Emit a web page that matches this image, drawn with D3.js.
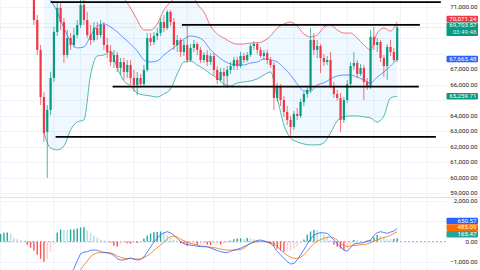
<!DOCTYPE html>
<html lang="en">
<head>
<meta charset="UTF-8">
<script src="https://d3js.org/d3.v7.min.js"></script>
<style>
  html, body { margin: 0; padding: 0; background: #fff; }
  svg { display: block; font-family: Roboto, "Noto Sans", sans-serif; }
</style>
</head>
<body>
<script>
// ---- candles, one per bar, oldest first (first 10 bars sit above the visible range)
var open = [72800, 73100, 73400, 73200, 72900, 72600, 72800, 72400, 72300, 72200,
    72120, 70180, 68250, 65210, 62960, 64380, 66440, 69410, 70960, 70050,
    67920, 69020, 68570, 69210, 69860, 71150, 70180, 69210, 68890, 69670,
    69210, 69860, 68570, 68120, 67470, 67920, 67090, 67470, 66830, 67280,
    66440, 65990, 66440, 66050, 66960, 69020, 68760, 69150, 69340, 70050,
    69670, 70700, 70050, 68570, 68890, 68120, 68570, 67600, 68380, 68630,
    68250, 67600, 67920, 67470, 67860, 66960, 66310, 66830, 66570, 66960,
    67210, 67600, 67210, 67860, 67600, 67920, 68500, 68630, 68250, 67860,
    68050, 67600, 67280, 65150, 65920, 65020, 64250, 63730, 63280, 64120,
    63990, 64890, 65410, 65670, 68890, 68250, 68500, 67730, 67470, 67600,
    65920, 65410, 65150, 63730, 65020, 66050, 67210, 67410, 66700, 67090,
    66180, 65920, 69090, 68570, 68760, 67730, 67210, 68440, 68120, 67600];
var high = [73300, 73600, 73700, 73500, 73100, 72900, 73000, 72700, 72600, 72400,
    72760, 70500, 68570, 65540, 64700, 66830, 69730, 71340, 71340, 70310,
    69540, 69340, 69670, 70180, 71470, 71470, 70700, 69860, 70050, 70050,
    70180, 70050, 69020, 68570, 68250, 68120, 67730, 67730, 67600, 67600,
    66960, 66830, 66700, 67280, 69340, 69340, 69410, 69670, 70310, 70500,
    70830, 70830, 70310, 69210, 69020, 68890, 69860, 68630, 68890, 68760,
    68440, 68120, 68250, 68050, 68050, 67210, 67090, 67090, 67210, 67470,
    67800, 67800, 68120, 68050, 68120, 68630, 68830, 68760, 68440, 68250,
    68250, 67800, 67470, 66120, 66050, 65280, 64630, 63990, 64310, 64510,
    65090, 65540, 65800, 69670, 69340, 68890, 68630, 67990, 67860, 68120,
    66180, 65670, 65470, 65220, 66310, 67470, 68120, 67600, 67340, 67280,
    66440, 69540, 69730, 69020, 68890, 67920, 68630, 68890, 68380, 69860];
var low = [72500, 72900, 73000, 72800, 72400, 72300, 72200, 72000, 71900, 71800,
    69860, 67920, 64700, 62310, 59990, 64050, 66180, 69150, 69540, 67410,
    67730, 68250, 68380, 69020, 69670, 69860, 69020, 68570, 68760, 68890,
    69020, 68250, 67730, 67210, 67090, 66830, 66630, 66310, 66440, 65990,
    65540, 65340, 65800, 65860, 66830, 68500, 68570, 68890, 69150, 69410,
    69540, 69790, 68250, 68120, 67800, 67860, 67410, 67470, 68120, 67920,
    67410, 67410, 67210, 67280, 66630, 66050, 66180, 65920, 65800, 66700,
    66960, 66960, 67090, 67410, 67470, 67800, 68250, 67990, 67730, 67600,
    67340, 67090, 64380, 64890, 64630, 63930, 63410, 62700, 63090, 63730,
    63860, 64630, 65150, 65470, 67920, 67730, 66760, 67210, 67280, 65800,
    65150, 64960, 62960, 63540, 64830, 65800, 66960, 66440, 66570, 65020,
    65670, 65730, 68250, 68120, 67470, 66500, 66310, 67860, 67470, 67470];
var close = [73100, 73400, 73200, 72900, 72600, 72800, 72400, 72300, 72200, 72100,
    70180, 68250, 65210, 62890, 64380, 66440, 69410, 70960, 70050, 67920,
    69020, 68570, 69210, 69860, 71150, 70180, 69210, 68890, 69670, 69210,
    69860, 68570, 68120, 67470, 67920, 67090, 67470, 66830, 67280, 66440,
    65990, 66440, 66050, 66960, 69020, 68760, 69150, 69340, 70050, 69670,
    70700, 70050, 68570, 68890, 68120, 68570, 67600, 68380, 68630, 68250,
    67600, 67920, 67470, 67860, 66960, 66310, 66830, 66570, 66960, 67210,
    67600, 67210, 67860, 67600, 67920, 68500, 68630, 68250, 67860, 68050,
    67600, 67280, 65150, 65920, 65020, 64250, 63730, 63280, 64120, 63990,
    64890, 65410, 65670, 68890, 68250, 68500, 67730, 67470, 67600, 65920,
    65410, 65150, 63730, 65020, 66050, 67210, 67410, 66700, 67090, 66180,
    65920, 69090, 68570, 68760, 67730, 67210, 68440, 68120, 67600, 69703.57];

// ---- bollinger bands
var bandBar = [13, 15, 17, 19, 21, 23, 25, 27, 29, 31, 33, 35, 37, 39, 41, 43, 45, 47,
    49, 51, 53, 55, 57, 59, 61, 63, 65, 67, 69, 71, 73, 75, 77, 79, 81, 83, 85, 87,
    89, 91, 93, 95, 97, 99, 101, 103, 105, 107, 109, 111, 113, 115, 117, 119];
var bbUpper = [81150, 81150, 79530, 77280, 74570, 73150, 73150, 71660, 71730, 71920,
    71790, 71730, 71540, 70950, 70180, 69540, 69540, 69920, 70830, 71340, 71790,
    72120, 71990, 71210, 70700, 69790, 69280, 69020, 68760, 68630, 68630, 68700,
    68700, 68830, 69150, 69660, 69920, 70050, 69790, 69280, 69090, 69210, 69730,
    69860, 69540, 69340, 69340, 69020, 68570, 68250, 69340, 69660, 69470, 70071.24];
var bbBasis = [71990, 71470, 70700, 69670, 68830, 68380, 68440, 69150, 69790, 69920,
    69730, 69410, 69020, 68630, 68180, 67600, 67470, 67540, 67920, 68250, 68570,
    68950, 69150, 69080, 68830, 68250, 67860, 67540, 67340, 67280, 67280, 67410,
    67470, 67670, 67600, 67470, 67090, 66630, 66050, 65600, 65600, 65990, 66120,
    66380, 66570, 66630, 66630, 66500, 66310, 66120, 66500, 66830, 67210, 67665.48];
var bbLower = [62890, 61920, 61800, 62050, 63090, 63600, 63730, 66630, 67860, 67920,
    68180, 67090, 66250, 65920, 65470, 65340, 65280, 65210, 65410, 65730, 66700,
    67470, 67540, 67280, 67020, 66700, 66440, 66050, 65920, 66120, 66180, 66250,
    66380, 66630, 66830, 65150, 63410, 62570, 62310, 62180, 62120, 62120, 62250,
    62890, 63670, 63930, 63990, 63990, 63930, 63860, 63600, 63990, 65150, 65259.71];

// ---- MACD pane, one value per bar
var macdLine = [-1700, -1680, -1660, -1650, -1660, -1680, -1700, -1720, -1800, -1900,
    -2050, -2250, -2500, -2750, -2800, -2600, -2300, -2000, -1800, -1700,
    -1600, -1500, -1350, -950, -600, -520, -500, -430, -420, -430,
    -500, -530, -550, -600, -680, -850, -910, -910, -860, -810,
    -860, -910, -880, -760, -520, -260, -20, 170, 330, 440,
    490, 430, 320, 160, -5, -100, -160, -180, -195, -230,
    -250, -250, -255, -320, -380, -440, -500, -530, -550, -480,
    -420, -380, -330, -250, -170, -85, 0, 50, 80, 40,
    -20, -85, -250, -480, -650, -830, -980, -1110, -1080, -900,
    -660, -400, -120, 130, 320, 400, 440, 430, 410, 250,
    80, -100, -250, -420, -480, -300, -120, -90, -70, -45,
    20, 80, 300, 440, 490, 450, 410, 470, 520, 650.57];
var signalLine = [-2080, -2100, -2100, -2060, -1980, -1900, -1820, -1760, -1700, -1680,
    -1700, -1750, -1820, -1900, -2000, -2100, -2150, -2200, -2150, -2100,
    -2000, -1900, -1750, -1600, -1400, -1160, -960, -750, -620, -560,
    -550, -550, -550, -560, -620, -720, -780, -820, -840, -850,
    -860, -870, -850, -800, -700, -580, -440, -300, -170, -40,
    140, 250, 270, 230, 120, 40, -40, -90, -130, -170,
    -210, -240, -260, -280, -300, -330, -370, -400, -420, -420,
    -420, -410, -400, -330, -200, -90, -40, -10, 10, 0,
    -20, -60, -130, -250, -400, -560, -680, -770, -830, -830,
    -780, -660, -480, -280, -90, 20, 100, 160, 210, 240,
    180, 80, -100, -190, -250, -220, -190, -180, -160, -140,
    -120, -60, 20, 80, 150, 200, 243, 320, 400, 485.09];
var histogram = [380, 440, 450, 400, 200, 120, 60, 20, -150, -300,
    -450, -650, -850, -1000, -850, -500, -150, 450, 600, 570,
    560, 600, 600, 650, 700, 720, 550, 420, 300, 200,
    100, 50, 20, -50, -200, -250, -120, -60, -80, -100,
    -60, -70, -30, 150, 300, 400, 470, 480, 500, 450,
    300, 200, 100, 40, -80, -100, -200, -150, -120, -160,
    -140, -130, -150, -170, -140, -120, -140, -100, -60, 50,
    120, 150, 160, 130, 180, 150, 120, 60, 20, -20,
    -40, -120, -230, -350, -450, -500, -480, -450, -350, -250,
    -100, 100, 350, 500, 580, 560, 480, 350, 250, 80,
    -150, -250, -350, -430, -300, -150, 80, 60, 40, 30,
    50, 80, 220, 330, 280, 200, 130, 120, 140, 165.47];

// ---- hand drawn horizontal levels (price, first bar, last bar)
var levelPrice = [71340, 69860, 65880, 62640];
var levelFrom = [15.0, 54.4, 33.6, 16.5];
var levelTo = [132.1, 125.8, 125.5, 130.6];

var priceTicks = [59000, 60000, 61000, 62000, 63000, 64000, 65000, 66000, 67000, 68000, 69000, 70000, 71000];
var macdTicks = [-1000, 0, 1000, 2000];
var countdown = "03:49:48";

var W = 480, H = 270, plotRight = 446, paneSplit = 197.5;
var green = "#089981", red = "#f23645";

var svg = d3.select("body").append("svg")
    .attr("width", W)
    .attr("height", H);

var x = d3.scaleLinear().domain([0, 119]).range([0.6, 397.2]);
var yP = d3.scaleLinear().domain([58760, 71471]).range([197, 0]);
var yM = d3.scaleLinear().domain([-1406, 2158]).range([270, 198]);
var fmt = d3.format(",.2f");

var defs = svg.append("defs");
defs.append("clipPath").attr("id", "clipMain")
    .append("rect").attr("x", 0).attr("y", 0).attr("width", plotRight).attr("height", paneSplit);
defs.append("clipPath").attr("id", "clipMacd")
    .append("rect").attr("x", 0).attr("y", paneSplit + 0.5).attr("width", plotRight).attr("height", H - paneSplit);

// grid
var grid = svg.append("g").attr("stroke", "#f0f3fa").attr("stroke-width", 1);
grid.selectAll(".vg").data(d3.range(0, 134, 8)).enter().append("line")
    .attr("x1", function (d) { return x(d); }).attr("x2", function (d) { return x(d); })
    .attr("y1", 0).attr("y2", H);
grid.selectAll(".hg").data(priceTicks).enter().append("line")
    .attr("x1", 0).attr("x2", plotRight)
    .attr("y1", function (d) { return Math.round(yP(d)) + 0.5; })
    .attr("y2", function (d) { return Math.round(yP(d)) + 0.5; });
grid.selectAll(".mg").data(macdTicks).enter().append("line")
    .attr("x1", 0).attr("x2", plotRight)
    .attr("y1", function (d) { return Math.round(yM(d)) + 0.5; })
    .attr("y2", function (d) { return Math.round(yM(d)) + 0.5; });

svg.append("line").attr("x1", 0).attr("x2", W).attr("y1", paneSplit).attr("y2", paneSplit)
    .attr("stroke", "#e0e3eb").attr("stroke-width", 1);

// ---- main pane
var main = svg.append("g").attr("clip-path", "url(#clipMain)");

var bands = bandBar.map(function (b, i) {
    return {bar: b, up: bbUpper[i], mid: bbBasis[i], lo: bbLower[i]};
});
main.append("path").datum(bands)
    .attr("fill", "rgba(33,150,243,0.07)")
    .attr("d", d3.area().curve(d3.curveMonotoneX)
        .x(function (d) { return x(d.bar); })
        .y0(function (d) { return yP(d.lo); })
        .y1(function (d) { return yP(d.up); }));

[["up", red], ["mid", "#2962ff"], ["lo", green]].forEach(function (b) {
    main.append("path").datum(bands)
        .attr("fill", "none")
        .attr("stroke", b[1])
        .attr("stroke-width", 0.8)
        .attr("stroke-opacity", 0.85)
        .attr("d", d3.line().curve(d3.curveMonotoneX)
            .x(function (d) { return x(d.bar); })
            .y(function (d) { return yP(d[b[0]]); }));
});

// current price line
main.append("line")
    .attr("x1", 0).attr("x2", plotRight)
    .attr("y1", yP(close[close.length - 1])).attr("y2", yP(close[close.length - 1]))
    .attr("stroke", green).attr("stroke-opacity", 0.5).attr("stroke-width", 0.6)
    .attr("stroke-dasharray", "1,1.5");

var bars = d3.range(open.length);
var col = function (i) { return close[i] >= open[i] ? green : red; };

main.selectAll(".wick").data(bars).enter().append("line")
    .attr("x1", function (i) { return x(i); }).attr("x2", function (i) { return x(i); })
    .attr("y1", function (i) { return yP(high[i]); })
    .attr("y2", function (i) { return yP(low[i]); })
    .attr("stroke", col).attr("stroke-width", 0.7);

main.selectAll(".body").data(bars).enter().append("rect")
    .attr("x", function (i) { return x(i) - 1.1; })
    .attr("width", 2.2)
    .attr("y", function (i) { return Math.min(yP(open[i]), yP(close[i])); })
    .attr("height", function (i) { return Math.max(0.7, Math.abs(yP(open[i]) - yP(close[i]))); })
    .attr("fill", col);

// drawn levels
main.selectAll(".level").data(levelPrice).enter().append("line")
    .attr("x1", function (d, i) { return x(levelFrom[i]); })
    .attr("x2", function (d, i) { return x(levelTo[i]); })
    .attr("y1", function (d) { return yP(d); })
    .attr("y2", function (d) { return yP(d); })
    .attr("stroke", "#000").attr("stroke-width", 1.8);

// ---- MACD pane
var macd = svg.append("g").attr("clip-path", "url(#clipMacd)");

macd.append("line")
    .attr("x1", 0).attr("x2", plotRight)
    .attr("y1", yM(0)).attr("y2", yM(0))
    .attr("stroke", "#9598a1").attr("stroke-width", 0.7)
    .attr("stroke-dasharray", "2,2");

macd.selectAll(".hist").data(bars).enter().append("rect")
    .attr("x", function (i) { return x(i) - 0.7; })
    .attr("width", 1.4)
    .attr("y", function (i) { return Math.min(yM(0), yM(histogram[i])); })
    .attr("height", function (i) { return Math.abs(yM(histogram[i]) - yM(0)); })
    .attr("fill", function (i) {
        var h = histogram[i], p = i > 0 ? histogram[i - 1] : h;
        if (h >= 0) return h >= p ? "#26a69a" : "#b2dfdb";
        return h >= p ? "#ffcdd2" : "#ff5252";
    });

[[signalLine, "#ff6d00"], [macdLine, "#2962ff"]].forEach(function (s) {
    macd.append("path").datum(s[0])
        .attr("fill", "none").attr("stroke", s[1]).attr("stroke-width", 0.8)
        .attr("d", d3.line()
            .x(function (d, i) { return x(i); })
            .y(function (d) { return yM(d); }));
});

// ---- last value tags on the price axis
var last = close.length - 1;
var nb = bandBar.length - 1;
var gTop = yP(close[last]) - 4.9;
var hTop = yM(histogram[last]) - 7.3;
var tags = [
    {top: gTop - 6.8, h: 6.6, fill: red, lines: [fmt(bbUpper[nb])]},
    {top: gTop, h: 13.4, fill: green, lines: [fmt(close[last]), countdown]},
    {top: yP(bbBasis[nb]) - 3.3, h: 6.6, fill: "#2962ff", lines: [fmt(bbBasis[nb])]},
    {top: yP(bbLower[nb]) - 3.3, h: 6.6, fill: green, lines: [fmt(bbLower[nb])]},
    {top: hTop - 13.2, h: 6.6, fill: "#2962ff", lines: [fmt(macdLine[last])]},
    {top: hTop - 6.6, h: 6.6, fill: "#ff6d00", lines: [fmt(signalLine[last])]},
    {top: hTop, h: 6.6, fill: "#26a69a", lines: [fmt(histogram[last])]}
];

// axis labels that would sit under a tag are hidden, as the chart does
function free(y) {
    return tags.every(function (t) { return y + 3.3 < t.top || y - 3.3 > t.top + t.h; });
}

var axis = svg.append("g")
    .attr("font-size", 6.2)
    .attr("fill", "#131722")
    .attr("text-anchor", "end");
axis.selectAll(".pt").data(priceTicks.filter(function (d) { return free(yP(d)); })).enter().append("text")
    .attr("x", 477.5)
    .attr("y", function (d) { return yP(d) + 2.2; })
    .text(function (d) { return fmt(d); });
axis.selectAll(".mt").data(macdTicks.filter(function (d) { return free(yM(d)); })).enter().append("text")
    .attr("x", 477.5)
    .attr("y", function (d) { return yM(d) + 2.2; })
    .text(function (d) { return fmt(d); });

tags.forEach(function (t) {
    var g = svg.append("g");
    g.append("rect").attr("x", 446.5).attr("y", t.top).attr("width", 31.5).attr("height", t.h)
        .attr("rx", 1).attr("fill", t.fill);
    t.lines.forEach(function (s, k) {
        g.append("text").attr("x", 476.5).attr("y", t.top + 5 + k * 6.6)
            .attr("text-anchor", "end").attr("font-size", 6.2)
            .attr("fill", "#fff").attr("fill-opacity", k ? 0.85 : 1)
            .text(s);
    });
});
</script>
</body>
</html>
